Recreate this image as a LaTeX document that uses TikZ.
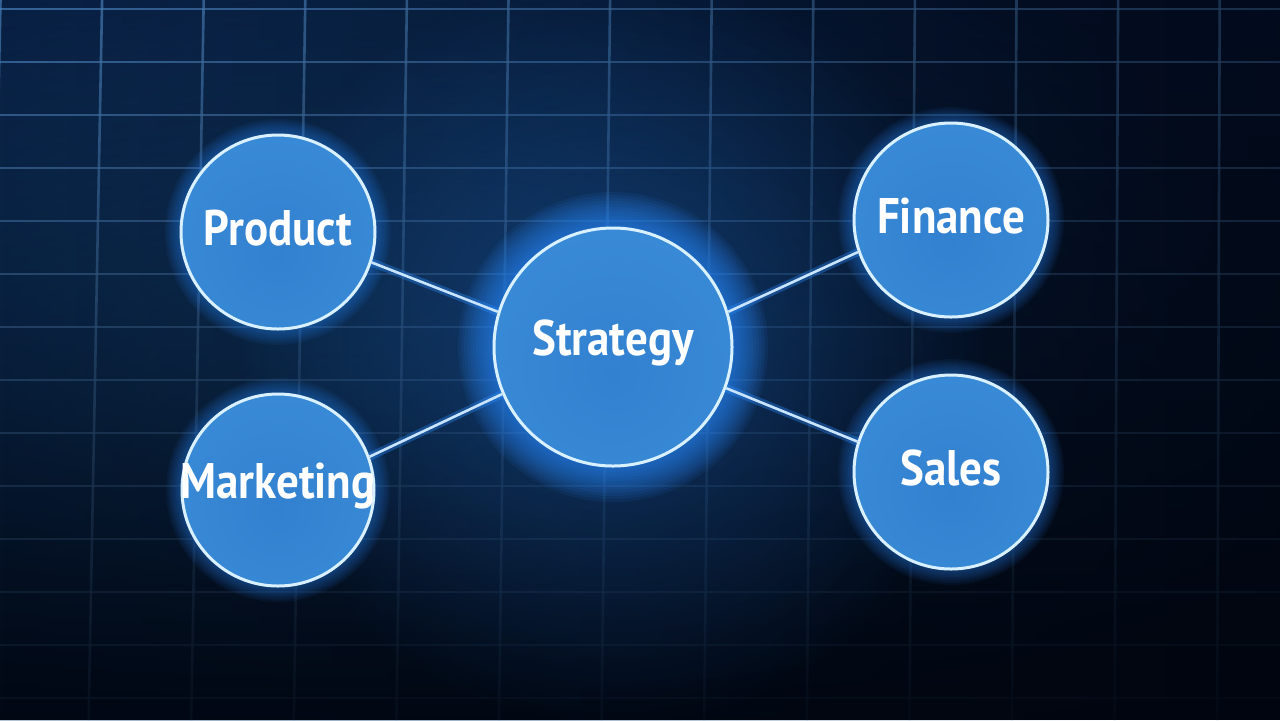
\documentclass[tikz,border=0pt]{standalone}
\usepackage{fontspec}
\newfontfamily\lblfont[FakeStretch=0.9]{PT Sans}
\usetikzlibrary{fadings}
\definecolor{bgbase}{HTML}{061431}
\definecolor{bgglow}{HTML}{144579}
\definecolor{bgdark}{HTML}{01050E}
\definecolor{gridcol}{HTML}{4B82BC}
\definecolor{glowblue}{HTML}{2C8CFF}
\definecolor{ringcol}{HTML}{D8F0FF}
\definecolor{connline}{HTML}{C8E4FF}
\definecolor{bubA}{HTML}{3281D0}
\definecolor{bubB}{HTML}{3889D6}
\definecolor{bubC}{HTML}{4899DF}
\definecolor{bubD}{HTML}{72BCF2}
\pgfdeclareradialshading{bubshade}{\pgfpoint{0bp}{-6bp}}{color(0bp)=(bubA); color(28bp)=(bubB); color(42bp)=(bubC); color(52bp)=(bubD); color(60bp)=(bubD)}
\tikzfading[name=softfade, inner color=transparent!0, outer color=transparent!100]
\tikzfading[name=downfade, top color=transparent!100, bottom color=transparent!10]
\tikzfading[name=rightfade, left color=transparent!100, right color=transparent!45]
\pgfdeclarelayer{bg}
\pgfdeclarelayer{glow}
\pgfsetlayers{bg,glow,main}
\tikzset{
  gridline/.style={draw=gridcol, line width=1.3pt, opacity=0.7},
  bubble/.style={circle, draw=ringcol, line width=1.5pt, shading=bubshade,
    inner sep=0pt},
  bubtext/.style={text=white, yshift=2pt,
    font=\lblfont\bfseries\fontsize{25}{30}\selectfont},
  conn/.style={draw=connline, line width=1.3pt,
    preaction={draw=glowblue, line width=4pt, opacity=0.35}},
}
\begin{document}
\begin{tikzpicture}[x=0.5pt,y=-0.5pt]
\useasboundingbox (0,0) rectangle (1280,720);
\begin{pgfonlayer}{bg}
  \fill[bgbase] (0,0) rectangle (1280,720);
  \fill[bgglow, path fading=softfade] (340,380) ellipse (950 and 580);
  \foreach \k in {0,...,12}
    \draw[gridline] ({0.5+101.6*\k},0) -- ({-14+102.6*\k},720);
  \foreach \k in {0,...,13}
    \draw[gridline] (0,{9+53*\k}) -- (1280,{9+53*\k});
  \fill[bgdark, path fading=downfade] (0,0) rectangle (1280,720);
  \fill[bgdark, path fading=rightfade] (0,0) rectangle (1280,720);
  \fill[glowblue, opacity=0.3, path fading=softfade] (613,347) circle (380);
\end{pgfonlayer}

\node[bubble, minimum size=119pt, label={[bubtext]center:Strategy}] (strat) at (613,347) {};
\node[bubble, minimum size=97pt, label={[bubtext]center:Product}] (prod) at (278,232) {};
\node[bubble, minimum size=96pt, label={[bubtext]center:Marketing}] (mark) at (278,490) {};
\node[bubble, minimum size=97pt, label={[bubtext]center:Finance}] (fin) at (951,220) {};
\node[bubble, minimum size=97pt, label={[bubtext]center:Sales}] (sales) at (951,472) {};

\begin{pgfonlayer}{glow}
  \foreach \n/\r in {prod/97, mark/96, fin/97, sales/97}
    \foreach \i in {1,...,8}
      \fill[glowblue, opacity=0.06] (\n.center) circle ({\r+2*\i});
  \foreach \i in {1,...,12}
    \fill[glowblue, opacity=0.08] (strat.center) circle ({119+3*\i});
\end{pgfonlayer}

\draw[conn] (prod.-18) -- (strat.163);
\draw[conn] (mark.20) -- (strat.203);
\draw[conn] (fin.199) -- (strat.17);
\draw[conn] (sales.162) -- (strat.340);
\end{tikzpicture}
\end{document}
